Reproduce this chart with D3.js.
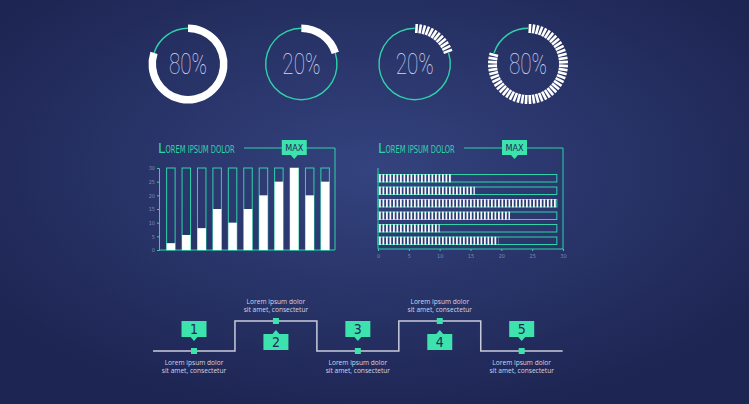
<!DOCTYPE html>
<html>
<head>
<meta charset="utf-8">
<script src="https://cdn.jsdelivr.net/npm/d3@7"></script>
<style>
  body { margin: 0; background: #1e2654; }
  svg { display: block; }
  .tick text { fill: #8088bb; font-family: "Liberation Sans Narrow", "DejaVu Sans Condensed", sans-serif; font-size: 5.5px; }
</style>
</head>
<body>
<div id="chart"></div>
<script>
// ---- data ----
const gaugeValues = [80, 20, 20, 80];
const gaugeLabels = ["80%", "20%", "20%", "80%"];

const colCats = ["c1", "c2", "c3", "c4", "c5", "c6", "c7", "c8", "c9", "c10", "c11"];
const colValues = [2.5, 5.5, 8, 15, 10, 15, 20, 25, 30, 20, 25];
const colTicks = [0, 5, 10, 15, 20, 25, 30];

const rowCats = ["r1", "r2", "r3", "r4", "r5", "r6"];
const rowValues = [12, 15.7, 29, 21.4, 10, 19.5];
const rowTrack = 29;
const rowTicks = [0, 5, 10, 15, 20, 25, 30];

const chartTitle = "Lorem ipsum dolor";

const steps = ["1", "2", "3", "4", "5"];
const stepLevels = [0, 1, 0, 1, 0];
const stepText = ["Lorem ipsum dolor", "sit amet, consectetur"];

const TEAL = "#2fd3a8", BADGE = "#3de3ad", DARK = "#1f2a5a";
const NARROW = "'Liberation Sans Narrow', 'DejaVu Sans Condensed', sans-serif";

let W = 749, H = 404;
let svg = d3.select("#chart").append("svg")
    .attr("width", W).attr("height", H);

// background glow
let defs = svg.append("defs");
let grad = defs.append("radialGradient").attr("id", "bg")
    .attr("cx", "50%").attr("cy", "42%").attr("r", "62%");
grad.append("stop").attr("offset", "0%").attr("stop-color", "#34437f");
grad.append("stop").attr("offset", "100%").attr("stop-color", "#1d2552");
svg.append("rect").attr("width", W).attr("height", H).attr("fill", "url(#bg)");

// stripes for the horizontal bars
let pat = defs.append("pattern").attr("id", "stripes")
    .attr("patternUnits", "userSpaceOnUse").attr("x", 379)
    .attr("width", 3.5).attr("height", 20);
pat.append("rect").attr("width", 2).attr("height", 20)
    .attr("fill", "#f6f7fc").attr("shape-rendering", "crispEdges");

// --------- GAUGES ---------
let angle = d3.scaleLinear().domain([0, 100]).range([0, 2 * Math.PI]);
let gx = d3.scalePoint().domain(d3.range(gaugeValues.length)).range([188, 528]);

gaugeValues.forEach((v, i) => {
    let g = svg.append("g").attr("transform", "translate(" + gx(i) + ",64)");
    // teal remainder
    g.append("path")
        .attr("d", d3.arc().innerRadius(35).outerRadius(36.4)
            .startAngle(angle(v)).endAngle(2 * Math.PI)())
        .attr("fill", TEAL);
    if (i < 2) {
        g.append("path")
            .attr("d", d3.arc().innerRadius(32).outerRadius(39.5)
                .startAngle(0).endAngle(angle(v))())
            .attr("fill", "#ffffff");
    } else {
        let n = Math.round(v / 100 * 60);
        let a = d => angle((d + 0.5) * 100 / 60);
        g.selectAll("line.tk").data(d3.range(n)).join("line")
            .attr("class", "tk")
            .attr("x1", d => 31 * Math.sin(a(d)))
            .attr("y1", d => -31 * Math.cos(a(d)))
            .attr("x2", d => 40 * Math.sin(a(d)))
            .attr("y2", d => -40 * Math.cos(a(d)))
            .attr("stroke", "#ffffff").attr("stroke-width", 2.6);
    }
    g.append("text")
        .attr("x", -19).attr("y", 10)
        .attr("textLength", 38).attr("lengthAdjust", "spacingAndGlyphs")
        .attr("font-family", "Roboto, sans-serif").attr("font-weight", 100)
        .attr("font-size", 30).attr("fill", "#d3d6f5")
        .text(gaugeLabels[i]);
});

// shared helpers
function title(x, y) {
    svg.append("text").attr("x", x).attr("y", y)
        .attr("font-family", NARROW).attr("font-size", 14.5)
        .attr("fill", TEAL).text(chartTitle[0].toUpperCase());
    svg.append("text").attr("x", x + 7.6).attr("y", y)
        .attr("textLength", 69).attr("lengthAdjust", "spacingAndGlyphs")
        .attr("font-family", NARROW).attr("font-size", 10.5)
        .attr("fill", TEAL).text(chartTitle.slice(1).toUpperCase());
}

function badge(cx, top, w, h, label, pointDown, fs) {
    let tip = pointDown
        ? [[cx - 3.5, top + h], [cx, top + h + 4], [cx + 3.5, top + h]]
        : [[cx - 3.5, top], [cx, top - 4], [cx + 3.5, top]];
    svg.append("path").attr("d", d3.line()(tip)).attr("fill", BADGE);
    svg.append("rect").attr("x", cx - w / 2).attr("y", top)
        .attr("width", w).attr("height", h).attr("fill", BADGE);
    svg.append("text").attr("x", cx).attr("y", top + h / 2)
        .attr("dy", "0.36em").attr("text-anchor", "middle")
        .attr("font-family", NARROW)
        .attr("font-size", fs).attr("fill", DARK).text(label);
}

// --------- COLUMN CHART ---------
let x = d3.scaleBand().domain(colCats).range([162, 334])
    .paddingInner(0.45).paddingOuter(0.3);
let y = d3.scaleLinear().domain([0, 30]).range([250, 168]);

title(158, 152.5);
svg.append("path").attr("d", "M244,148H335V250H159")
    .attr("fill", "none").attr("stroke", TEAL).attr("stroke-width", 1);

let yAxis = svg.append("g").attr("transform", "translate(159,0)")
    .call(d3.axisLeft(y).tickValues(colTicks).tickSize(2).tickPadding(2));
yAxis.select(".domain").attr("stroke", TEAL);
yAxis.selectAll(".tick line").attr("stroke", TEAL);

svg.selectAll("rect.track").data(colCats).join("rect")
    .attr("class", "track")
    .attr("x", d => x(d)).attr("y", y(30))
    .attr("width", x.bandwidth()).attr("height", y(0) - y(30))
    .attr("fill", "none").attr("stroke", TEAL).attr("stroke-width", 1);
svg.selectAll("rect.col").data(colValues).join("rect")
    .attr("class", "col")
    .attr("x", (d, i) => x(colCats[i])).attr("y", d => y(d))
    .attr("width", x.bandwidth()).attr("height", d => y(0) - y(d))
    .attr("fill", "#ffffff");

let maxI = colValues.indexOf(d3.max(colValues));
badge(x(colCats[maxI]) + x.bandwidth() / 2, 140, 25, 15, "MAX", true, 9);

// --------- BAR CHART ---------
let hx = d3.scaleLinear().domain([0, 30]).range([378, 563]);
let hy = d3.scaleBand().domain(rowCats).range([172, 247])
    .paddingInner(0.4).paddingOuter(0.2);

title(378, 152.5);
svg.append("path").attr("d", "M464,148H563V249H378V168")
    .attr("fill", "none").attr("stroke", TEAL).attr("stroke-width", 1);

let xAxis = svg.append("g").attr("transform", "translate(0,249)")
    .call(d3.axisBottom(hx).tickValues(rowTicks).tickSize(2).tickPadding(3));
xAxis.select(".domain").remove();
xAxis.selectAll(".tick line").attr("stroke", TEAL);

svg.selectAll("rect.htrack").data(rowCats).join("rect")
    .attr("class", "htrack")
    .attr("x", hx(0)).attr("y", d => hy(d))
    .attr("width", hx(rowTrack) - hx(0)).attr("height", hy.bandwidth())
    .attr("fill", "none").attr("stroke", TEAL).attr("stroke-width", 1);
svg.selectAll("rect.hbar").data(rowValues).join("rect")
    .attr("class", "hbar")
    .attr("x", hx(0) + 0.5).attr("y", (d, i) => hy(rowCats[i]) - 0.3)
    .attr("width", d => hx(d) - hx(0) - 0.5).attr("height", hy.bandwidth() + 0.6)
    .attr("fill", "url(#stripes)");

badge(514.5, 140, 25, 15, "MAX", true, 9);

// --------- TIMELINE ---------
let sx = d3.scalePoint().domain(steps).range([194, 521.7]);
let sy = d3.scaleLinear().domain([0, 1]).range([351, 321]);
let half = sx.step() / 2;

let pts = steps.map((s, i) => [sx(s), sy(stepLevels[i])]);
pts.unshift([sx(steps[0]) - half, sy(stepLevels[0])]);
pts.push([sx(steps[steps.length - 1]) + half, sy(stepLevels[steps.length - 1])]);

svg.append("path")
    .attr("d", d3.line().curve(d3.curveStep)(pts))
    .attr("fill", "none").attr("stroke", "#c9ccdc").attr("stroke-width", 1.5);

steps.forEach((s, i) => {
    let cx = sx(s), cy = sy(stepLevels[i]);
    let high = stepLevels[i] === 1;
    svg.append("rect").attr("x", cx - 3).attr("y", cy - 3)
        .attr("width", 6).attr("height", 6).attr("fill", BADGE);
    if (high) badge(cx, cy + 13, 25, 16, s, false, 14);
    else badge(cx, cy - 30, 25, 16, s, true, 14);
    let ty = high ? cy - 17 : cy + 14;
    stepText.forEach((t, j) => {
        svg.append("text").attr("x", cx).attr("y", ty + j * 7.5)
            .attr("text-anchor", "middle")
            .attr("font-family", "'Open Sans', sans-serif").attr("font-size", 6.6)
            .attr("fill", "#d3d6e8").text(t);
    });
});
</script>
</body>
</html>
